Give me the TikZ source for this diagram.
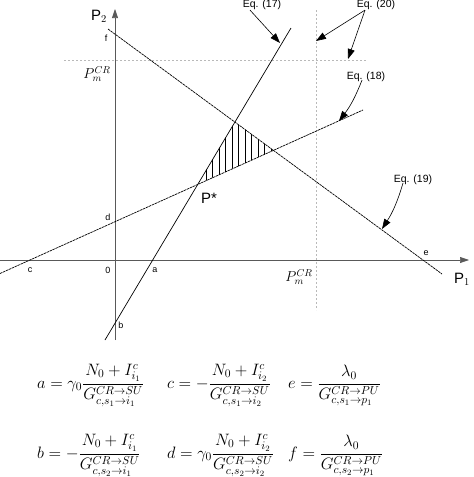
\RequirePackage{fix-cm}
\documentclass[tikz,border=0pt]{standalone}
\usepackage{amsmath}
\usepackage{fontspec}
\newfontfamily\labelfont{Liberation Sans}
\usetikzlibrary{arrows.meta}

\tikzset{
  axis/.style={gray!70!black, line width=0.6pt, -{Triangle[length=9pt,width=6pt]}},
  eqline/.style={line width=0.7pt},
  dashline/.style={line width=0.7pt, dash pattern=on 2.5pt off 0.7pt},
  limit/.style={gray!55, line width=0.5pt, dash pattern=on 2pt off 2pt},
  callout/.style={line width=0.6pt, -{Triangle[length=10pt,width=7pt]}},
  eqlabel/.style={font=\labelfont\fontsize{10.5}{12}\selectfont, inner sep=0pt},
  ptlabel/.style={font=\labelfont\fontsize{9}{10}\selectfont, inner sep=0pt},
  axlabel/.style={font=\labelfont\fontsize{15}{17}\selectfont, inner sep=0pt},
  formula/.style={anchor=base west, inner sep=0pt, font=\fontsize{16.5}{20}\selectfont}
}

\begin{document}
\begin{tikzpicture}[x=1pt,y=-1pt]
\useasboundingbox (0,0) rectangle (474,477);
% axes
\coordinate (ybot) at (115,340);
\coordinate (ytop) at (115,9);
\coordinate (xleft) at (0,260);
\coordinate (xright) at (469,260);
\draw[axis] (ybot) -- (ytop);
\draw[axis] (xleft) -- (xright);
\node[axlabel] (p2) at (99,16) {P$_2$};
\node[axlabel] (p1) at (462,279) {P$_1$};

% limits P_m^CR
\coordinate (hl) at (64,60);
\coordinate (hr) at (367,60);
\coordinate (vt) at (316,10);
\coordinate (vb) at (316,310);
\draw[limit] (hl) -- (hr);
\draw[limit] (vt) -- (vb);
\node[inner sep=0pt, font=\Large] (pmy) at (97,74) {$P_m^{CR}$};
\node[inner sep=0pt, font=\Large] (pmx) at (299,277) {$P_m^{CR}$};

% constraint lines
\coordinate (l17a) at (105,340);
\coordinate (l17b) at (291,28);
\coordinate (l18a) at (0,273.5);
\coordinate (l18b) at (363,110);
\coordinate (l19a) at (108,29);
\coordinate (l19b) at (442,274);
\coordinate (pstar) at (intersection of l17a--l17b and l18a--l18b);
\coordinate (ptop) at (intersection of l17a--l17b and l19a--l19b);
\coordinate (pright) at (intersection of l18a--l18b and l19a--l19b);

% feasible region
\begin{scope}
\clip (pstar) -- (ptop) -- (pright) -- cycle;
\foreach \hx in {206,212.5,...,272}
  \draw[line width=0.6pt] (\hx,100) -- (\hx,200);
\end{scope}

\draw[eqline] (l17a) -- (l17b);
\draw[dashline] (l18a) -- (l18b);
\draw[dashline] (l19a) -- (l19b);

% intercepts
\node[ptlabel] (f) at (106,38) {f};
\node[ptlabel] (d) at (108,217) {d};
\node[ptlabel] (c) at (30,270) {c};
\node[ptlabel] (zero) at (108,270) {0};
\node[ptlabel] (a) at (155,270) {a};
\node[ptlabel] (b) at (121,325) {b};
\node[ptlabel] (e) at (426,253) {e};
\node[axlabel] (pstarlbl) at (209,198) {P*};

% equation callouts
\node[eqlabel] (eq17) at (262,5) {Eq. (17)};
\node[eqlabel] (eq20) at (376,5) {Eq. (20)};
\node[eqlabel] (eq18) at (366,77) {Eq. (18)};
\node[eqlabel] (eq19) at (413,180) {Eq. (19)};
\coordinate (t17) at (280,43);
\coordinate (t20a) at (316,41);
\coordinate (t20b) at (348,59);
\coordinate (t18) at (339,121);
\coordinate (t19) at (382,229);
\draw[callout] ([xshift=-12pt]eq17.south) -- (t17);
\draw[callout] ([xshift=-11pt]eq20.south) -- (t20a);
\draw[callout] ([xshift=-11pt]eq20.south) -- (t20b);
\draw[callout] ([xshift=-4pt,yshift=2pt]eq18.south) to[bend left=8] (t18);
\draw[callout] ([xshift=-10pt,yshift=2pt]eq19.south) to[bend left=8] (t19);

% intercept values
\node[formula] (fa) at (37,388) {$a=\gamma_0\dfrac{N_0+I^c_{i_1}}{G^{CR\to SU}_{c,s_1\to i_1}}$};
\node[formula] (fc) at (167,388) {$c=-\dfrac{N_0+I^c_{i_2}}{G^{CR\to SU}_{c,s_1\to i_2}}$};
\node[formula] (fe) at (288,388) {$e=\dfrac{\lambda_0}{G^{CR\to PU}_{c,s_1\to p_1}}$};
\node[formula] (fb) at (37,458) {$b=-\dfrac{N_0+I^c_{i_1}}{G^{CR\to SU}_{c,s_2\to i_1}}$};
\node[formula] (fd) at (167,458) {$d=\gamma_0\dfrac{N_0+I^c_{i_2}}{G^{CR\to SU}_{c,s_2\to i_2}}$};
\node[formula] (ff) at (288,458) {$f=\dfrac{\lambda_0}{G^{CR\to PU}_{c,s_2\to p_1}}$};
\end{tikzpicture}
\end{document}
